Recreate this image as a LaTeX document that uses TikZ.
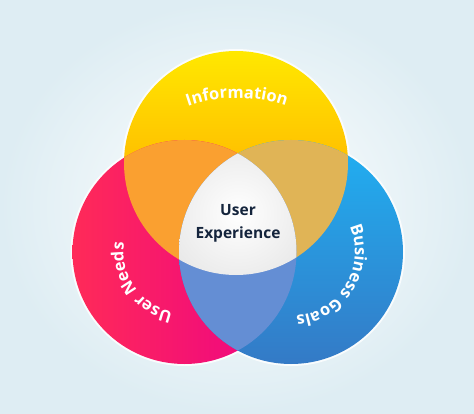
\documentclass[tikz,border=0pt]{standalone}
\usepackage{fontspec}
\setmainfont{Open Sans}
\usetikzlibrary{decorations.text}
\definecolor{infotop}{RGB}{255,232,0}
\definecolor{infomid}{RGB}{255,178,0}
\definecolor{infobot}{RGB}{255,150,0}
\definecolor{needleft}{RGB}{255,42,88}
\definecolor{needright}{RGB}{236,0,136}
\definecolor{goaltop}{RGB}{32,176,242}
\definecolor{goalbot}{RGB}{52,122,198}
\definecolor{infoneed}{RGB}{250,160,48}
\definecolor{infogoal}{RGB}{224,180,86}
\definecolor{needgoal}{RGB}{100,142,212}
\definecolor{uxtext}{RGB}{20,36,60}
\definecolor{bgedge}{RGB}{222,237,243}
\tikzset{
  curvedlabel/.style={decorate, decoration={text along path, text align=center,
      text={|\color{white}\bfseries\fontsize{16.5}{16.5}\selectfont|#1}}},
  uxlabel/.style={font=\bfseries\fontsize{15.5}{23}\selectfont, text=uxtext, align=center},
}
\begin{document}
\begin{tikzpicture}[x=1pt,y=1pt]
  \def\infoc{(236,250) circle[radius=112]}
  \def\needc{(184.5,161) circle[radius=112]}
  \def\goalc{(291,161) circle[radius=112]}
  \shade[inner color=white, outer color=bgedge] (0,0) rectangle (474,413);
  \useasboundingbox (0,0) rectangle (474,413);
  % halo
  \draw[white, line width=4pt, opacity=0.8] \infoc \needc \goalc;
  \shade[top color=infotop, middle color=infomid, bottom color=infobot] \infoc;
  \shade[left color=needleft, right color=needright] \needc;
  \shade[top color=goaltop, bottom color=goalbot] \goalc;
  % overlaps
  \begin{scope}
    \clip \infoc;
    \fill[infoneed] \needc;
    \fill[infogoal] \goalc;
  \end{scope}
  \begin{scope}
    \clip \needc;
    \fill[needgoal] \goalc;
  \end{scope}
  \begin{scope}
    \clip \infoc; \clip \needc; \clip \goalc;
    \shade[inner color=white, outer color=black!11] (238,200) circle[radius=95];
  \end{scope}
  \node[uxlabel] (ux) at (238,190) {User\\Experience};
  \path[curvedlabel=Information] ([shift={(125:150)}]237,165) arc[start angle=125, end angle=55, radius=150];
  \path[curvedlabel=User Needs] ([shift={(280:61)}]184.5,161) arc[start angle=280, end angle=150, radius=61];
  \path[curvedlabel=Business Goals] ([shift={(40:64)}]291,161) arc[start angle=40, end angle=-102, radius=64];
\end{tikzpicture}
\end{document}
